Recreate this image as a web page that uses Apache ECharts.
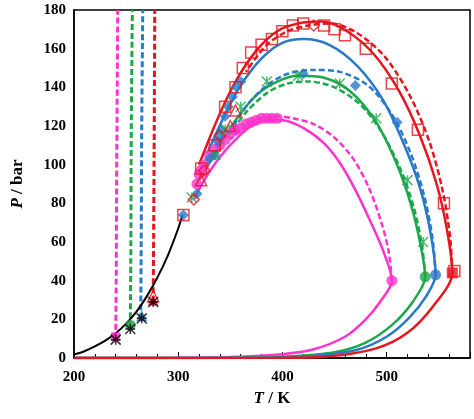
<!DOCTYPE html>
<html>
<head>
<meta charset="UTF-8">
<script src="https://cdn.jsdelivr.net/npm/echarts@6/dist/echarts.min.js"></script>
<style>html,body{margin:0;background:#fff}#c{width:474px;height:419px}</style>
</head>
<body>
<div id="c"></div>
<script>
// data: [T (K), P (bar)]
var vapourCO2 = [[200,1.8],[210,3.5],[220,6],[230,9],[240,12.8],[250,17.8],[260,24],[270,32],[280,41.6],[290,53],[300,67],[304,73.8]];

var magSolid = [[200,0],[300,0.1],[350,0.5],[400,2],[430,4.5],[460,11],[480,20],[495,30],[505,40],[497,55],[485,70],[470,87],[455,101],[440,111],[420,119],[400,123],[385,123],[370,120],[355,113],[340,104],[325,92],[315,82]];
var magDash = [[505,40],[502,55],[495,70],[483,88],[468,103],[450,114],[430,121],[410,124],[395,125],[380,124],[365,120],[350,113]];
var greenSolid = [[200,0],[350,0.1],[400,0.6],[450,3],[480,8],[505,17],[525,29],[537,42],[532,60],[523,80],[510,100],[490,122],[465,138],[440,145],[415,146],[395,143],[375,136],[355,123],[340,110],[320,92]];
var greenDash = [[537,42],[534,58],[526,78],[513,98],[495,117],[475,131],[450,140],[425,143],[405,142],[385,137],[365,127],[350,116]];
var blueSolid = [[200,0],[380,0.1],[420,0.6],[470,4],[500,11],[522,21],[538,32],[547,43],[542,65],[532,88],[517,110],[497,133],[472,151],[445,162],[420,165],[400,163],[380,155],[360,141],[345,126],[328,106]];
var blueDash = [[547,43],[544,62],[536,84],[523,106],[505,126],[482,141],[455,148],[430,149],[405,147],[385,141],[365,130],[350,117]];
var redSolid = [[200,0],[400,0.1],[440,0.6],[490,5],[520,13],[545,27],[563,44],[558,66],[548,90],[532,115],[512,138],[488,157],[462,169],[437,174],[415,173],[395,169],[375,159],[355,143],[338,124],[320,100]];
var redDash = [[563,44],[561,62],[554,86],[541,112],[522,136],[498,156],[472,168],[447,173],[425,172],[405,169],[385,162],[365,148]];

var magVert = [[240,10],[240.5,40],[241,100],[242,180]];
var greenVert = [[254,16],[254.5,50],[255,120],[256,180]];
var blueVert = [[264,20],[264.5,60],[265,120],[266,180]];
var redVert = [[276,29],[276.5,70],[277,120],[277.5,180]];

var blackX = [[240,9.5],[254,15],[265,20.5],[276,29]];
var magDots = [[320,95],[325,100],[330,105],[335,108],[340,110],[345,113],[350,116],[355,118],[360,119],[365,121],[370,122],[375,123],[380,124],[385,124],[390,124],[395,124],[318,90],[322,97]];
var blueDiam = [[305,74],[318,85],[330,103],[338,112],[342,118],[345,125],[348,130],[352,135],[356,140],[360,143],[420,147],[470,141],[510,122],[335,105],[340,115]];
var greenCross = [[313,83],[336,105],[360,130],[385,143],[415,146],[455,142],[490,124],[520,92],[535,60],[345,118]];
var redSquare = [[305,74],[322,98],[335,110],[345,130],[355,140],[362,150],[370,158],[380,162],[390,165],[400,169],[410,172],[420,173],[440,172],[450,170],[460,167],[480,160],[505,142],[530,118],[555,80],[565,45]];
var redDiam = [[315,82],[325,97],[430,172],[340,115]];
var redTri = [[276,32],[322,92],[350,120],[355,128]];
var crit = [[505,40,'#ff33cc','circle'],[537,42,'#1aa84a','circle'],[547,43,'#2979c9','circle'],[563,44,'#e8141e','rect']];

var MAG = '#ff33cc', GRN = '#1aa84a', BLU = '#2979c9', RED = '#e8141e';

function line(d, c, dashed, w) {
  return {type:'line', data:d, smooth:0.3, symbol:'none', lineStyle:{color:c, width:w||2.5, type:dashed?[6,3]:'solid'}, z:3};
}
function pts(d, c, sym, size, open) {
  return {type:'scatter', data:d, symbol:sym, symbolSize:size,
    itemStyle: open ? {color:'rgba(255,255,255,0)', borderColor:c, borderWidth:1.5} : {color:c}, z:4};
}

var series = [
  line(magSolid, MAG), line(magDash, MAG, true),
  line(greenSolid, GRN), line(greenDash, GRN, true),
  line(blueSolid, BLU), line(blueDash, BLU, true),
  line(redSolid, RED), line(redDash, RED, true),
  line(magVert, MAG, true, 3), line(greenVert, GRN, true, 3), line(blueVert, BLU, true, 3), line(redVert, RED, true, 3),
  line(vapourCO2, '#000', false, 2),
  pts(magDots, MAG, 'circle', 11),
  pts(blueDiam, BLU, 'diamond', 11),
  pts(greenCross, GRN, 'path://M0,0L10,10M10,0L0,10M5,0L5,10', 10, true),
  pts(redSquare, RED, 'rect', 11, true),
  pts(redDiam, RED, 'diamond', 11, true),
  pts(redTri, RED, 'triangle', 11, true),
  pts([[240,11]], MAG, 'rect', 9), pts([[254,17]], GRN, 'circle', 11),
  pts([[265,22]], BLU, 'triangle', 11), pts([[276,30]], RED, 'triangle', 11),
  pts(blackX, '#000', 'path://M0,0L10,10M10,0L0,10M5,0L5,10M0,5L10,5', 10, true)
];
crit.forEach(function (p) {
  series.push({type:'scatter', data:[[p[0], p[1]]], symbol:p[3], symbolSize:11, itemStyle:{color:p[2]}, z:5});
});

var font = 'Liberation Serif';
var nameStyle = {fontFamily:font, fontSize:17, fontWeight:'bold', color:'#000', rich:{i:{fontStyle:'italic', fontFamily:font, fontSize:17, fontWeight:'bold'}}};
echarts.init(document.getElementById('c')).setOption({
  animation:false,
  grid:{left:74, right:4, top:10, bottom:61, show:true, borderColor:'#000', borderWidth:1.5},
  xAxis:{type:'value', min:200, max:580, interval:100,
    name:'{i|T} / K', nameLocation:'middle', nameGap:30, nameTextStyle:nameStyle,
    axisLine:{lineStyle:{color:'#000', width:1.5}}, axisTick:{inside:true, length:6, lineStyle:{color:'#000'}},
    minorTick:{show:true, splitNumber:5, length:4, lineStyle:{color:'#000'}},
    axisLabel:{fontFamily:font, fontSize:15, fontWeight:'bold', color:'#000', margin:12,
      formatter:function(v){return v===580?'':v;}},
    splitLine:{show:false}},
  yAxis:{type:'value', min:0, max:180, interval:20,
    name:'{i|P} / bar', nameLocation:'middle', nameGap:48, nameTextStyle:nameStyle,
    axisLine:{show:true, lineStyle:{color:'#000', width:1.5}}, axisTick:{show:false},
    axisLabel:{fontFamily:font, fontSize:15, fontWeight:'bold', color:'#000', margin:8},
    splitLine:{show:false}},
  series:series
});
</script>
</body>
</html>
